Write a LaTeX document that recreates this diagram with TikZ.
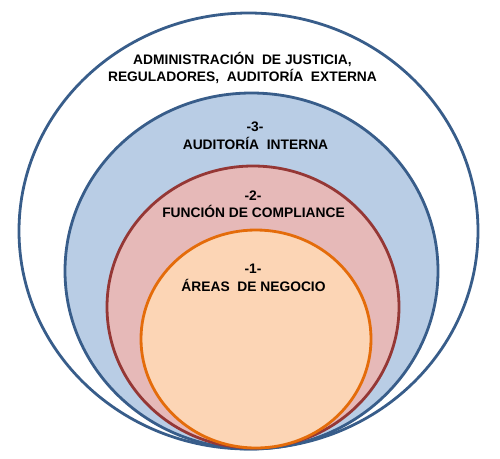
\documentclass[tikz,border=0pt]{standalone}
\usepackage{fontspec}
\setmainfont{Liberation Sans}
\usetikzlibrary{shapes.geometric}
\definecolor{outerline}{HTML}{385D8A}
\definecolor{bluefill}{HTML}{B9CDE5}
\definecolor{redline}{HTML}{953735}
\definecolor{redfill}{HTML}{E6B9B8}
\definecolor{orangeline}{HTML}{E46C0A}
\definecolor{orangefill}{HTML}{FCD5B5}
\tikzset{
  ring/.style={ellipse, inner sep=0pt, line width=2.8pt},
  lbl/.style={font=\fontsize{13.8}{16}\selectfont\bfseries, inner sep=0pt, anchor=base, text=black}
}
\begin{document}
\begin{tikzpicture}[x=1pt,y=-1pt]
\useasboundingbox (0,0) rectangle (500,458);
\node[ring, draw=outerline, fill=white, minimum width=459pt, minimum height=436pt] (outer) at (248.5,231) {};
\node[ring, draw=outerline, fill=bluefill, minimum width=373pt, minimum height=356pt] (blue) at (251.5,271) {};
\node[ring, draw=redline, fill=redfill, minimum width=292pt, minimum height=282pt] (red) at (253,307) {};
\node[ring, draw=orangeline, fill=orangefill, minimum width=230pt, minimum height=218pt] (orange) at (256,339) {};
\node[lbl] (t1) at (242.5,64.3) {ADMINISTRACIÓN\ \ DE JUSTICIA,};
\node[lbl] (t2) at (242.5,81) {REGULADORES,\ \ AUDITORÍA\ \ EXTERNA};
\node[lbl] (n3) at (255,131.7) {-3-};
\node[lbl] (t3) at (255.5,149) {AUDITORÍA\ \ INTERNA};
\node[lbl] (n2) at (253,200) {-2-};
\node[lbl] (t4) at (253.5,217.3) {FUNCIÓN DE COMPLIANCE};
\node[lbl] (n1) at (253,273.3) {-1-};
\node[lbl] (t5) at (253.5,291) {ÁREAS\ \ DE NEGOCIO};
\end{tikzpicture}
\end{document}
